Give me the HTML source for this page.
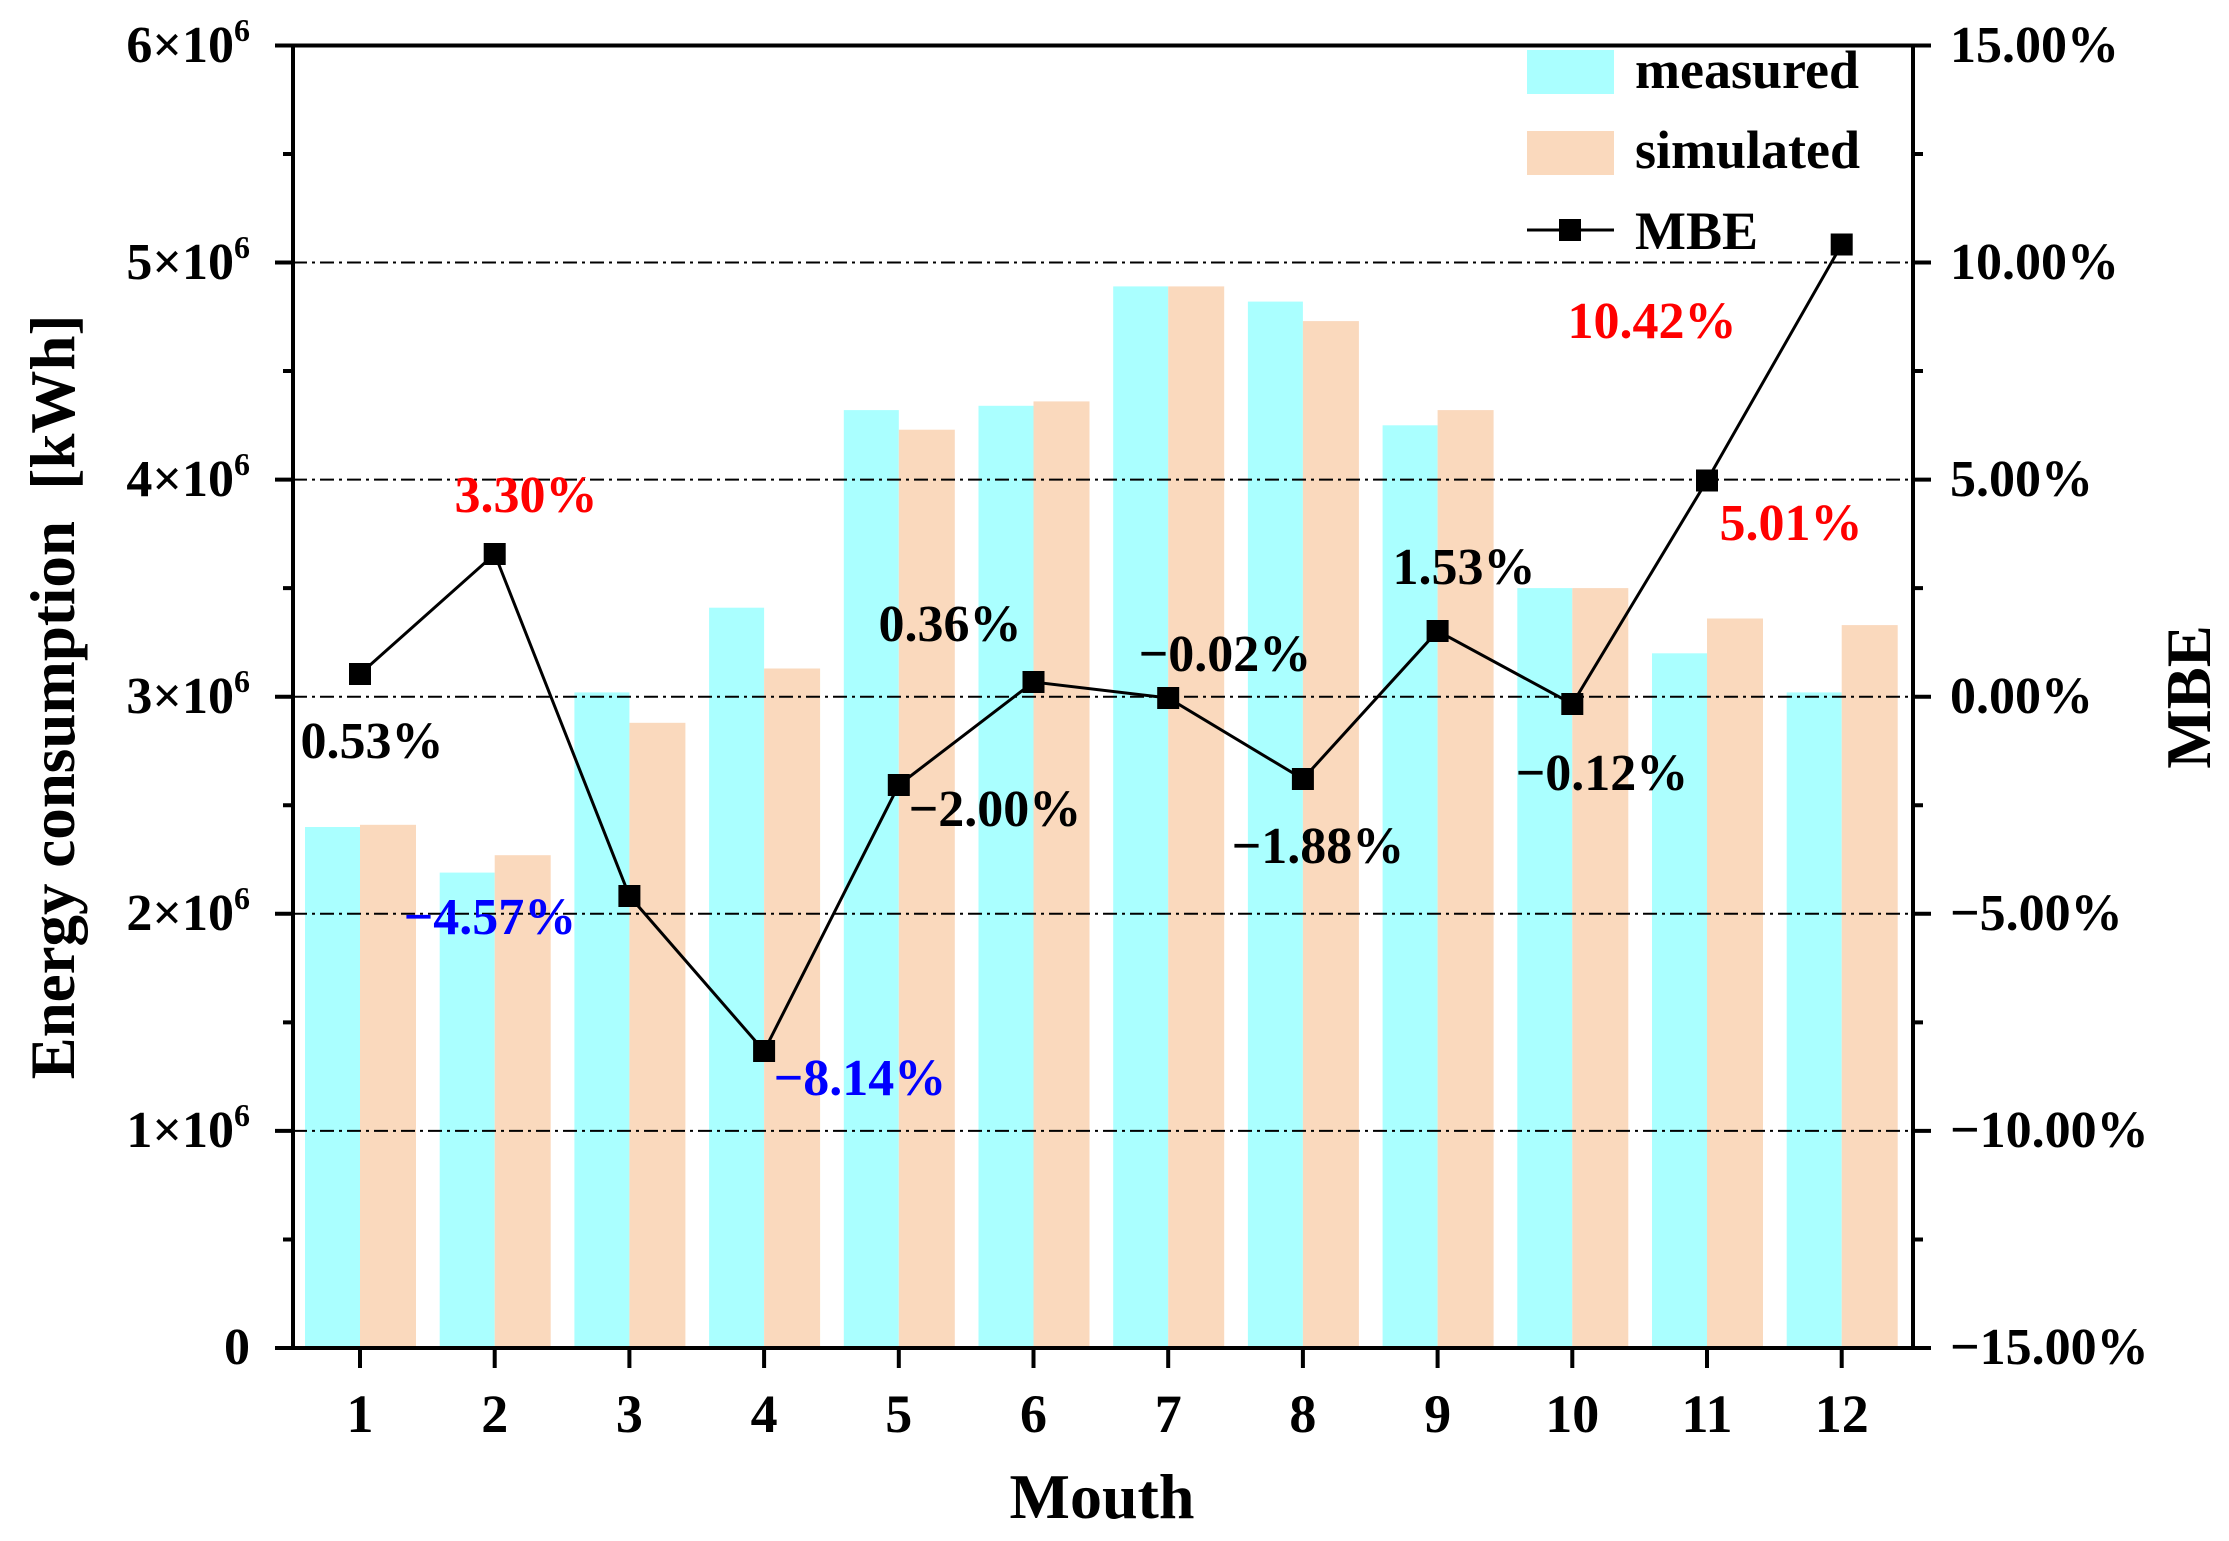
<!DOCTYPE html>
<html><head><meta charset="utf-8"><style>body{margin:0;background:#fff}</style></head><body>
<svg width="2229" height="1536" viewBox="0 0 2229 1536" xmlns="http://www.w3.org/2000/svg" font-family="Liberation Serif, serif" font-weight="bold">
<g fill="#aaffff">
<rect x="305" y="827" width="55" height="521"/>
<rect x="439.7" y="872.6" width="55" height="475.4"/>
<rect x="574.4" y="692.4" width="55" height="655.6"/>
<rect x="709.1" y="607.7" width="55" height="740.3"/>
<rect x="843.8" y="410.1" width="55" height="937.9"/>
<rect x="978.5" y="405.8" width="55" height="942.2"/>
<rect x="1113.2" y="286.4" width="55" height="1061.6"/>
<rect x="1247.9" y="301.6" width="55" height="1046.4"/>
<rect x="1382.6" y="425.3" width="55" height="922.7"/>
<rect x="1517.3" y="588.1" width="55" height="759.9"/>
<rect x="1652" y="653.3" width="55" height="694.7"/>
<rect x="1786.7" y="692.4" width="55" height="655.6"/>
</g>
<g fill="#fad9bd">
<rect x="360" y="824.8" width="56" height="523.2"/>
<rect x="494.7" y="855.2" width="56" height="492.8"/>
<rect x="629.4" y="722.8" width="56" height="625.2"/>
<rect x="764.1" y="668.5" width="56" height="679.5"/>
<rect x="898.8" y="429.7" width="56" height="918.3"/>
<rect x="1033.5" y="401.4" width="56" height="946.6"/>
<rect x="1168.2" y="286.4" width="56" height="1061.6"/>
<rect x="1302.9" y="321.1" width="56" height="1026.9"/>
<rect x="1437.6" y="410.1" width="56" height="937.9"/>
<rect x="1572.3" y="588.1" width="56" height="759.9"/>
<rect x="1707" y="618.5" width="56" height="729.5"/>
<rect x="1841.7" y="625.1" width="56" height="722.9"/>
</g>
<g stroke="#000" stroke-width="2" stroke-dasharray="14,5,3,5">
<line x1="293" x2="1913" y1="1130.9" y2="1130.9"/><line x1="293" x2="1913" y1="913.8" y2="913.8"/><line x1="293" x2="1913" y1="696.7" y2="696.7"/><line x1="293" x2="1913" y1="479.6" y2="479.6"/><line x1="293" x2="1913" y1="262.5" y2="262.5"/>
</g>
<g stroke="#000" stroke-width="4" fill="none">
<rect x="293" y="45.5" width="1620" height="1302.5"/>
<path d="M275 1348H293M283 1239.45H293M275 1130.9H293M283 1022.35H293M275 913.8H293M283 805.25H293M275 696.7H293M283 588.15H293M275 479.6H293M283 371.05H293M275 262.5H293M283 153.95H293M275 45.5H293"/>
<path d="M1913 1348H1931M1913 1239.45H1923M1913 1130.9H1931M1913 1022.35H1923M1913 913.8H1931M1913 805.25H1923M1913 696.7H1931M1913 588.15H1923M1913 479.6H1931M1913 371.05H1923M1913 262.5H1931M1913 153.95H1923M1913 45.5H1931"/>
<path d="M360 1348V1368M494.7 1348V1368M629.4 1348V1368M764.1 1348V1368M898.8 1348V1368M1033.5 1348V1368M1168.2 1348V1368M1302.9 1348V1368M1437.6 1348V1368M1572.3 1348V1368M1707 1348V1368M1841.7 1348V1368"/>
</g>
<polyline fill="none" stroke="#000" stroke-width="3" points="360,674 494.7,554 629.4,896 764.1,1051 898.8,785 1033.5,682 1168.2,698 1302.9,779 1437.6,631 1572.3,704 1707,480.5 1841.7,244.5"/>
<g fill="#000">
<rect x="349" y="663" width="22" height="22"/><rect x="483.7" y="543" width="22" height="22"/><rect x="618.4" y="885" width="22" height="22"/><rect x="753.1" y="1040" width="22" height="22"/><rect x="887.8" y="774" width="22" height="22"/><rect x="1022.5" y="671" width="22" height="22"/><rect x="1157.2" y="687" width="22" height="22"/><rect x="1291.9" y="768" width="22" height="22"/><rect x="1426.6" y="620" width="22" height="22"/><rect x="1561.3" y="693" width="22" height="22"/><rect x="1696" y="469.5" width="22" height="22"/><rect x="1830.7" y="233.5" width="22" height="22"/>
</g>
<g font-size="52" text-anchor="end">
<text x="250" y="62">6×10<tspan font-size="32" dy="-21">6</tspan></text>
<text x="250" y="279">5×10<tspan font-size="32" dy="-21">6</tspan></text>
<text x="250" y="496">4×10<tspan font-size="32" dy="-21">6</tspan></text>
<text x="250" y="713">3×10<tspan font-size="32" dy="-21">6</tspan></text>
<text x="250" y="930">2×10<tspan font-size="32" dy="-21">6</tspan></text>
<text x="250" y="1147">1×10<tspan font-size="32" dy="-21">6</tspan></text>
<text x="250" y="1364">0</text>
</g>
<g font-size="52">
<text x="1950" y="62">15.00%</text><text x="1950" y="279">10.00%</text><text x="1950" y="496">5.00%</text><text x="1950" y="713">0.00%</text><text x="1950" y="930">−5.00%</text><text x="1950" y="1147">−10.00%</text><text x="1950" y="1364">−15.00%</text>
</g>
<g font-size="54" text-anchor="middle">
<text x="360" y="1432">1</text><text x="494.7" y="1432">2</text><text x="629.4" y="1432">3</text><text x="764.1" y="1432">4</text><text x="898.8" y="1432">5</text><text x="1033.5" y="1432">6</text><text x="1168.2" y="1432">7</text><text x="1302.9" y="1432">8</text><text x="1437.6" y="1432">9</text><text x="1572.3" y="1432">10</text><text x="1707" y="1432">11</text><text x="1841.7" y="1432">12</text>
</g>
<g font-size="52" text-anchor="middle">
<text x="372" y="758">0.53%</text>
<text x="526" y="512" fill="#ff0000">3.30%</text>
<text x="490" y="934" fill="#0000ff">−4.57%</text>
<text x="860" y="1095" fill="#0000ff">−8.14%</text>
<text x="995" y="826">−2.00%</text>
<text x="950" y="641">0.36%</text>
<text x="1225" y="671">−0.02%</text>
<text x="1318" y="863">−1.88%</text>
<text x="1464" y="584">1.53%</text>
<text x="1602" y="790">−0.12%</text>
<text x="1652" y="338" fill="#ff0000">10.42%</text>
<text x="1791" y="540" fill="#ff0000">5.01%</text>
</g>
<rect x="1527" y="50" width="87" height="44" fill="#aaffff"/>
<rect x="1527" y="131" width="87" height="44" fill="#fad9bd"/>
<line x1="1527" x2="1614" y1="230" y2="230" stroke="#000" stroke-width="3"/>
<rect x="1559" y="219" width="22" height="22" fill="#000"/>
<g font-size="54"><text x="1635" y="88">measured</text><text x="1635" y="168">simulated</text><text x="1635" y="249">MBE</text></g>
<text x="1102" y="1518" font-size="64" text-anchor="middle">Mouth</text>
<text transform="translate(74,697) rotate(-90)" font-size="63" text-anchor="middle" xml:space="preserve">Energy consumption  [kWh]</text>
<text transform="translate(2210,697) rotate(-90)" font-size="63" text-anchor="middle">MBE</text>
</svg>
</body></html>
